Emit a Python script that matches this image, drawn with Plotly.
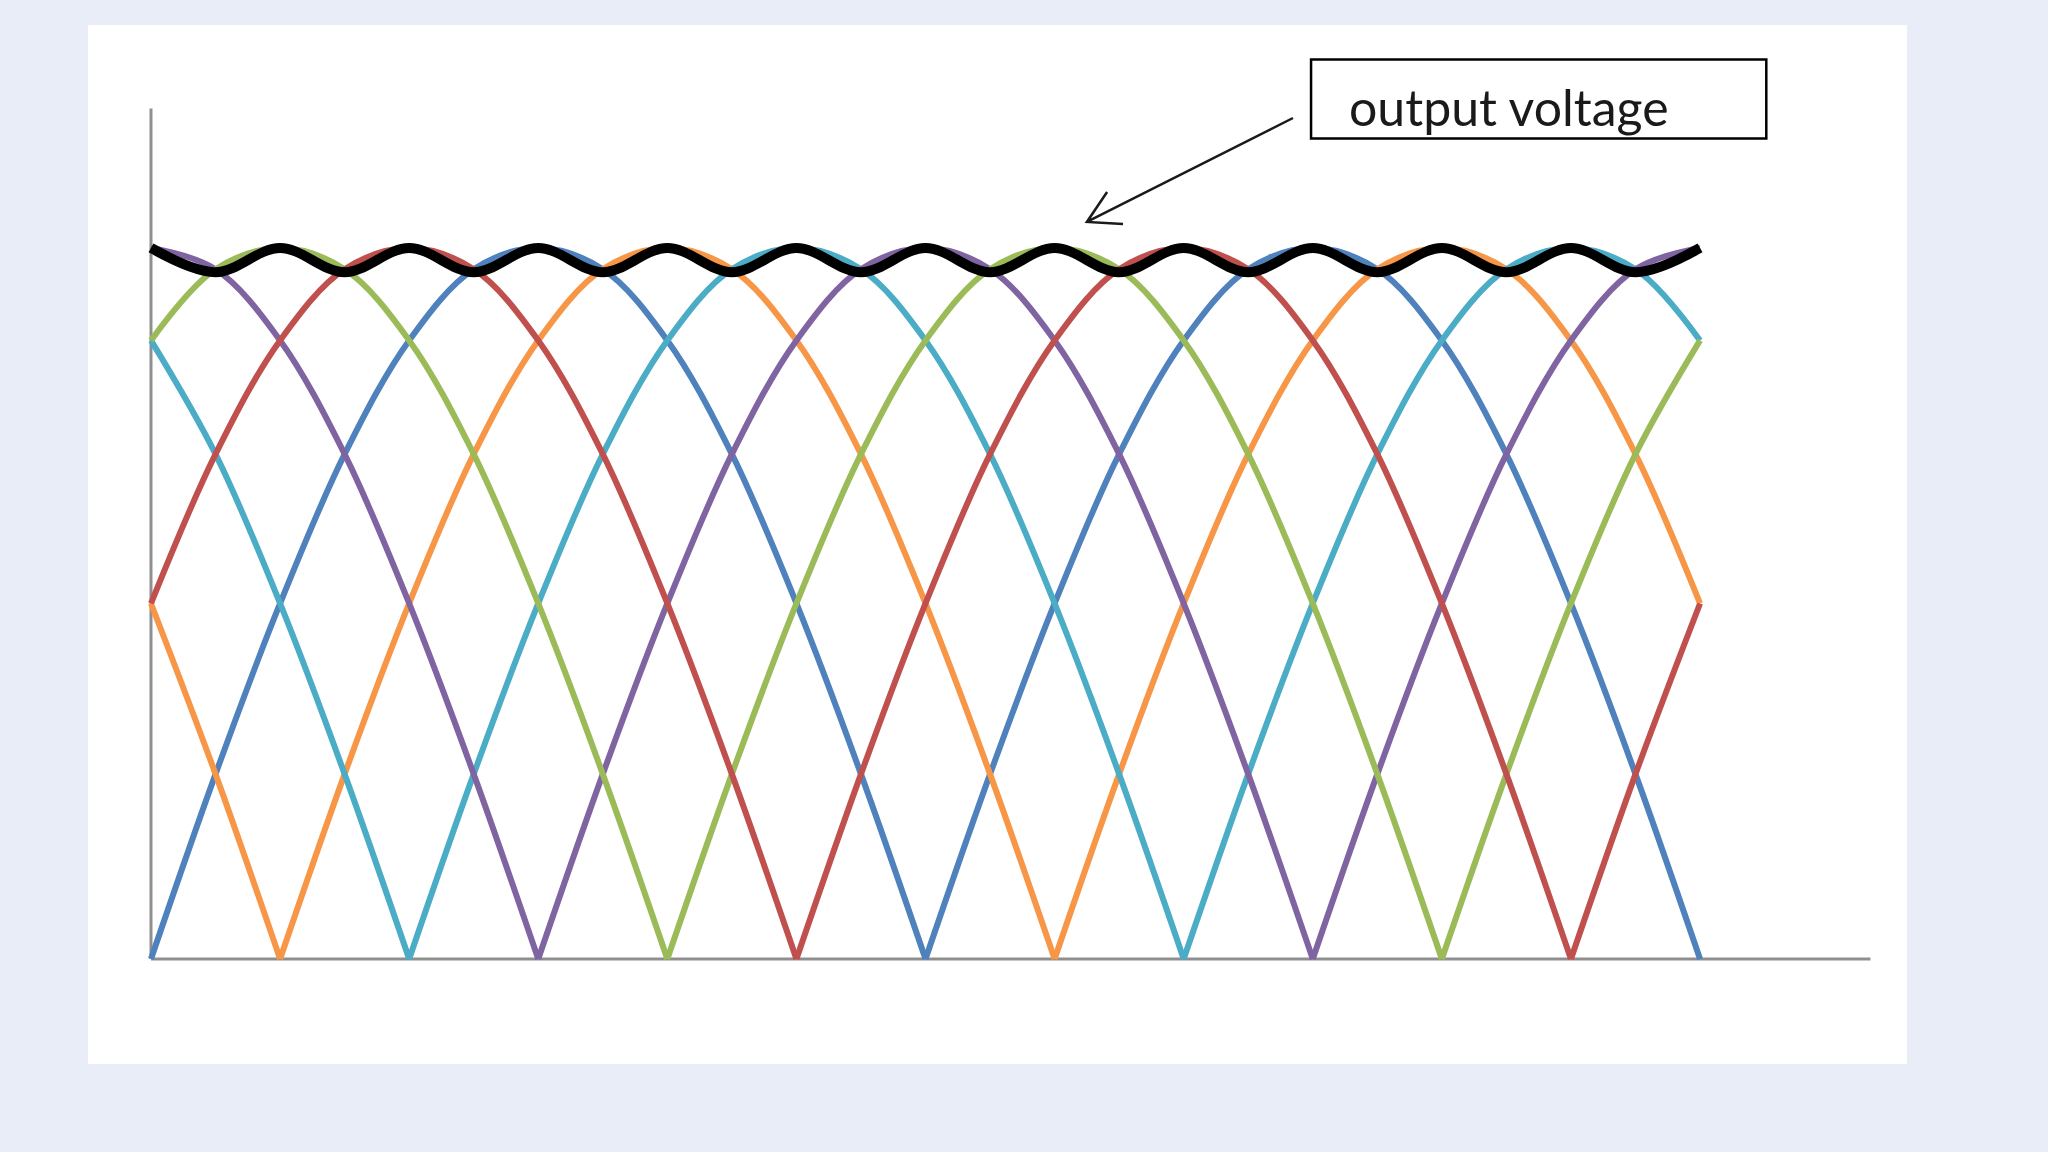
import plotly.graph_objects as go

# angle in degrees, sampled every 15 degrees
angle = list(range(0, 361, 15))

blue = [0, .26, .5, .71, .87, .97, 1, .97, .87, .71, .5, .26, 0,
        .26, .5, .71, .87, .97, 1, .97, .87, .71, .5, .26, 0]
orange = [.5, .26, 0, .26, .5, .71, .87, .97, 1, .97, .87, .71, .5,
          .26, 0, .26, .5, .71, .87, .97, 1, .97, .87, .71, .5]
cyan = [.87, .71, .5, .26, 0, .26, .5, .71, .87, .97, 1, .97, .87,
        .71, .5, .26, 0, .26, .5, .71, .87, .97, 1, .97, .87]
purple = [1, .97, .87, .71, .5, .26, 0, .26, .5, .71, .87, .97, 1,
          .97, .87, .71, .5, .26, 0, .26, .5, .71, .87, .97, 1]
green = [.87, .97, 1, .97, .87, .71, .5, .26, 0, .26, .5, .71, .87,
         .97, 1, .97, .87, .71, .5, .26, 0, .26, .5, .71, .87]
red = [.5, .71, .87, .97, 1, .97, .87, .71, .5, .26, 0, .26, .5,
       .71, .87, .97, 1, .97, .87, .71, .5, .26, 0, .26, .5]
output = [1, .966, 1, .966, 1, .966, 1, .966, 1, .966, 1, .966, 1,
          .966, 1, .966, 1, .966, 1, .966, 1, .966, 1, .966, 1]

phases = [blue, orange, cyan, purple, green, red]
colors = ["#4F81BD", "#F79646", "#4BACC6", "#8064A2", "#9BBB59", "#C0504D"]


def arches(xs, ys):
    # split at the zeros so each hump is its own spline (keeps the V cusps sharp)
    segs, cur_x, cur_y = [], [], []
    for x, y in zip(xs, ys):
        cur_x.append(x)
        cur_y.append(y)
        if y == 0 and len(cur_x) > 1:
            segs.append((cur_x, cur_y))
            cur_x, cur_y = [x], [y]
    if len(cur_x) > 1:
        segs.append((cur_x, cur_y))
    return segs


fig = go.Figure()
for vals, c in zip(phases, colors):
    for sx, sy in arches(angle, vals):
        fig.add_trace(go.Scatter(x=sx, y=sy, mode="lines",
                                 line=dict(color=c, width=6, shape="spline"),
                                 hoverinfo="skip"))
fig.add_trace(go.Scatter(x=angle, y=output, mode="lines",
                         line=dict(color="black", width=10, shape="spline"),
                         hoverinfo="skip"))

axis_gray = "#8f8f8f"
fig.add_shape(type="line", x0=0, x1=0, y0=0, y1=1.196,
              line=dict(color=axis_gray, width=3), layer="below")
fig.add_shape(type="line", x0=0, x1=399.6, y0=0, y1=0,
              line=dict(color=axis_gray, width=3), layer="below")

# label box, text and open-headed arrow
fig.add_shape(type="rect", x0=269.6, x1=375.4, y0=1.154, y1=1.265,
              line=dict(color="black", width=2.5), fillcolor="white")
fig.add_annotation(x=278.0, y=1.198, text="output voltage", showarrow=False,
                   xanchor="left", yanchor="middle",
                   font=dict(family="Lato", size=50, color="#1a1a1a"))
fig.add_shape(type="path",
              path="M 265.4 1.1828 L 217.5 1.0366 M 225.9 1.0338 L 217.5 1.0366 L 222.2 1.0788",
              line=dict(color="#1a1a1a", width=2.5))

fig.update_layout(
    width=2048, height=1152,
    margin=dict(l=88, r=141, t=25, b=88),
    paper_bgcolor="#e9edf8", plot_bgcolor="white",
    showlegend=False,
    xaxis=dict(range=[-14.64, 408.1], visible=False, fixedrange=True),
    yaxis=dict(range=[-0.1477, 1.3136], visible=False, fixedrange=True),
)

fig.write_html("out.html", config={"displayModeBar": False},
               post_script="document.body.style.margin='0';")
